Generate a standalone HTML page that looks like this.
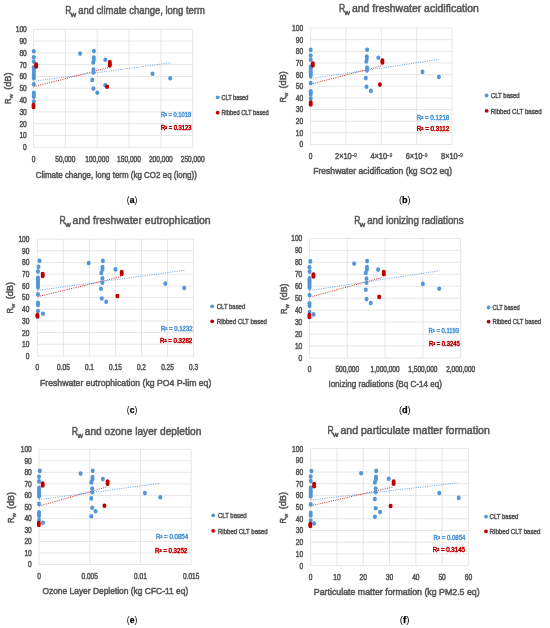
<!DOCTYPE html>
<html><head><meta charset="utf-8"><title>Rw charts</title>
<style>
html,body{margin:0;padding:0;background:#fff;}
body{width:550px;height:628px;overflow:hidden;}
svg{display:block;filter:blur(0.35px);}
text{font-family:"Liberation Sans",sans-serif;}
</style></head><body>
<svg width="550" height="628" viewBox="0 0 550 628">
<rect width="550" height="628" fill="#fff"/>
<line x1="33.50" y1="147.30" x2="192.70" y2="147.30" stroke="#dedede" stroke-width="0.75"/>
<line x1="33.50" y1="135.50" x2="192.70" y2="135.50" stroke="#dedede" stroke-width="0.75"/>
<line x1="33.50" y1="123.70" x2="192.70" y2="123.70" stroke="#dedede" stroke-width="0.75"/>
<line x1="33.50" y1="111.90" x2="192.70" y2="111.90" stroke="#dedede" stroke-width="0.75"/>
<line x1="33.50" y1="100.10" x2="192.70" y2="100.10" stroke="#dedede" stroke-width="0.75"/>
<line x1="33.50" y1="88.30" x2="192.70" y2="88.30" stroke="#dedede" stroke-width="0.75"/>
<line x1="33.50" y1="76.50" x2="192.70" y2="76.50" stroke="#dedede" stroke-width="0.75"/>
<line x1="33.50" y1="64.70" x2="192.70" y2="64.70" stroke="#dedede" stroke-width="0.75"/>
<line x1="33.50" y1="52.90" x2="192.70" y2="52.90" stroke="#dedede" stroke-width="0.75"/>
<line x1="33.50" y1="41.10" x2="192.70" y2="41.10" stroke="#dedede" stroke-width="0.75"/>
<line x1="33.50" y1="29.30" x2="192.70" y2="29.30" stroke="#dedede" stroke-width="0.75"/>
<line x1="33.50" y1="29.30" x2="33.50" y2="147.30" stroke="#dedede" stroke-width="0.75"/>
<line x1="65.34" y1="29.30" x2="65.34" y2="147.30" stroke="#dedede" stroke-width="0.75"/>
<line x1="97.18" y1="29.30" x2="97.18" y2="147.30" stroke="#dedede" stroke-width="0.75"/>
<line x1="129.02" y1="29.30" x2="129.02" y2="147.30" stroke="#dedede" stroke-width="0.75"/>
<line x1="160.86" y1="29.30" x2="160.86" y2="147.30" stroke="#dedede" stroke-width="0.75"/>
<line x1="192.70" y1="29.30" x2="192.70" y2="147.30" stroke="#dedede" stroke-width="0.75"/>
<text x="26.80" y="150.24" font-size="8.2" fill="#595959" text-anchor="end" font-weight="normal" font-family="Liberation Sans" stroke="#595959" stroke-width="0.55" textLength="3.7" lengthAdjust="spacingAndGlyphs">0</text>
<text x="26.80" y="138.44" font-size="8.2" fill="#595959" text-anchor="end" font-weight="normal" font-family="Liberation Sans" stroke="#595959" stroke-width="0.55" textLength="7.4" lengthAdjust="spacingAndGlyphs">10</text>
<text x="26.80" y="126.64" font-size="8.2" fill="#595959" text-anchor="end" font-weight="normal" font-family="Liberation Sans" stroke="#595959" stroke-width="0.55" textLength="7.4" lengthAdjust="spacingAndGlyphs">20</text>
<text x="26.80" y="114.84" font-size="8.2" fill="#595959" text-anchor="end" font-weight="normal" font-family="Liberation Sans" stroke="#595959" stroke-width="0.55" textLength="7.4" lengthAdjust="spacingAndGlyphs">30</text>
<text x="26.80" y="103.04" font-size="8.2" fill="#595959" text-anchor="end" font-weight="normal" font-family="Liberation Sans" stroke="#595959" stroke-width="0.55" textLength="7.4" lengthAdjust="spacingAndGlyphs">40</text>
<text x="26.80" y="91.24" font-size="8.2" fill="#595959" text-anchor="end" font-weight="normal" font-family="Liberation Sans" stroke="#595959" stroke-width="0.55" textLength="7.4" lengthAdjust="spacingAndGlyphs">50</text>
<text x="26.80" y="79.44" font-size="8.2" fill="#595959" text-anchor="end" font-weight="normal" font-family="Liberation Sans" stroke="#595959" stroke-width="0.55" textLength="7.4" lengthAdjust="spacingAndGlyphs">60</text>
<text x="26.80" y="67.64" font-size="8.2" fill="#595959" text-anchor="end" font-weight="normal" font-family="Liberation Sans" stroke="#595959" stroke-width="0.55" textLength="7.4" lengthAdjust="spacingAndGlyphs">70</text>
<text x="26.80" y="55.84" font-size="8.2" fill="#595959" text-anchor="end" font-weight="normal" font-family="Liberation Sans" stroke="#595959" stroke-width="0.55" textLength="7.4" lengthAdjust="spacingAndGlyphs">80</text>
<text x="26.80" y="44.04" font-size="8.2" fill="#595959" text-anchor="end" font-weight="normal" font-family="Liberation Sans" stroke="#595959" stroke-width="0.55" textLength="7.4" lengthAdjust="spacingAndGlyphs">90</text>
<text x="26.80" y="32.24" font-size="8.2" fill="#595959" text-anchor="end" font-weight="normal" font-family="Liberation Sans" stroke="#595959" stroke-width="0.55" textLength="11.1" lengthAdjust="spacingAndGlyphs">100</text>
<text x="33.50" y="161.94" font-size="8.2" fill="#595959" text-anchor="middle" font-weight="normal" font-family="Liberation Sans" stroke="#595959" stroke-width="0.55" textLength="3.7" lengthAdjust="spacingAndGlyphs">0</text>
<text x="65.34" y="161.94" font-size="8.2" fill="#595959" text-anchor="middle" font-weight="normal" font-family="Liberation Sans" stroke="#595959" stroke-width="0.55" textLength="20.1" lengthAdjust="spacingAndGlyphs">50,000</text>
<text x="97.18" y="161.94" font-size="8.2" fill="#595959" text-anchor="middle" font-weight="normal" font-family="Liberation Sans" stroke="#595959" stroke-width="0.55" textLength="23.8" lengthAdjust="spacingAndGlyphs">100,000</text>
<text x="129.02" y="161.94" font-size="8.2" fill="#595959" text-anchor="middle" font-weight="normal" font-family="Liberation Sans" stroke="#595959" stroke-width="0.55" textLength="23.8" lengthAdjust="spacingAndGlyphs">150,000</text>
<text x="160.86" y="161.94" font-size="8.2" fill="#595959" text-anchor="middle" font-weight="normal" font-family="Liberation Sans" stroke="#595959" stroke-width="0.55" textLength="23.8" lengthAdjust="spacingAndGlyphs">200,000</text>
<text x="192.70" y="161.94" font-size="8.2" fill="#595959" text-anchor="middle" font-weight="normal" font-family="Liberation Sans" stroke="#595959" stroke-width="0.55" textLength="23.8" lengthAdjust="spacingAndGlyphs">250,000</text>
<text x="35.70" y="177.59" font-size="9.2" fill="#595959" text-anchor="start" font-weight="normal" font-family="Liberation Sans" stroke="#595959" stroke-width="0.55" textLength="161.1" lengthAdjust="spacingAndGlyphs">Climate change, long term (kg CO2 eq (long))</text>
<text x="65.20" y="13.60" font-size="10.8" fill="#595959" font-weight="normal" font-family="Liberation Sans" stroke="#595959" stroke-width="0.55" textLength="6.2" lengthAdjust="spacingAndGlyphs">R</text>
<text x="70.80" y="16.50" font-size="7.0" fill="#595959" font-weight="normal" font-family="Liberation Sans" stroke="#595959" stroke-width="0.55" textLength="5.4" lengthAdjust="spacingAndGlyphs">w</text>
<text x="78.20" y="13.60" font-size="10.8" fill="#595959" text-anchor="start" font-weight="normal" font-family="Liberation Sans" stroke="#595959" stroke-width="0.55" textLength="126.7" lengthAdjust="spacingAndGlyphs">and climate change, long term</text>
<g transform="translate(10.50,104.00) rotate(-90)"><text x="0" y="0" font-size="8.6" fill="#595959" font-weight="normal" font-family="Liberation Sans" stroke="#595959" stroke-width="0.55" textLength="5.6" lengthAdjust="spacingAndGlyphs">R</text><text x="5.8" y="2.0" font-size="5.0" fill="#595959" font-weight="normal" font-family="Liberation Sans" stroke="#595959" stroke-width="0.35" textLength="4.0" lengthAdjust="spacingAndGlyphs">w</text><text x="14.18" y="0" font-size="8.8" fill="#595959" font-weight="normal" font-family="Liberation Sans" stroke="#595959" stroke-width="0.55" textLength="17.3" lengthAdjust="spacingAndGlyphs">(dB)</text></g>
<line x1="33.50" y1="81.30" x2="171.00" y2="62.70" stroke="#5296d8" stroke-width="0.85" stroke-dasharray="1 1.3"/>
<line x1="33.50" y1="86.80" x2="109.00" y2="67.50" stroke="#c00000" stroke-width="0.85" stroke-dasharray="1 1.3"/>
<ellipse cx="33.80" cy="67.20" rx="2.0" ry="2.3" fill="#5296d8"/>
<ellipse cx="33.80" cy="69.05" rx="2.0" ry="2.3" fill="#5296d8"/>
<ellipse cx="33.80" cy="70.90" rx="2.0" ry="2.3" fill="#5296d8"/>
<ellipse cx="33.80" cy="72.75" rx="2.0" ry="2.3" fill="#5296d8"/>
<ellipse cx="33.80" cy="74.60" rx="2.0" ry="2.3" fill="#5296d8"/>
<ellipse cx="33.80" cy="76.45" rx="2.0" ry="2.3" fill="#5296d8"/>
<ellipse cx="33.80" cy="78.30" rx="2.0" ry="2.3" fill="#5296d8"/>
<ellipse cx="33.80" cy="92.90" rx="2.0" ry="2.3" fill="#5296d8"/>
<ellipse cx="33.80" cy="94.85" rx="2.0" ry="2.3" fill="#5296d8"/>
<ellipse cx="33.80" cy="96.80" rx="2.0" ry="2.3" fill="#5296d8"/>
<ellipse cx="33.80" cy="51.30" rx="2.0" ry="2.3" fill="#5296d8"/>
<ellipse cx="33.80" cy="57.30" rx="2.0" ry="2.3" fill="#5296d8"/>
<ellipse cx="33.80" cy="61.60" rx="2.0" ry="2.3" fill="#5296d8"/>
<ellipse cx="33.80" cy="84.20" rx="2.0" ry="2.3" fill="#5296d8"/>
<ellipse cx="33.80" cy="101.50" rx="2.0" ry="2.3" fill="#5296d8"/>
<ellipse cx="80.10" cy="53.60" rx="2.0" ry="2.3" fill="#5296d8"/>
<ellipse cx="93.90" cy="51.00" rx="2.0" ry="2.3" fill="#5296d8"/>
<ellipse cx="93.80" cy="57.50" rx="2.0" ry="2.3" fill="#5296d8"/>
<ellipse cx="93.80" cy="60.00" rx="2.0" ry="2.3" fill="#5296d8"/>
<ellipse cx="93.20" cy="62.50" rx="2.0" ry="2.3" fill="#5296d8"/>
<ellipse cx="93.50" cy="69.50" rx="2.0" ry="2.3" fill="#5296d8"/>
<ellipse cx="93.50" cy="72.50" rx="2.0" ry="2.3" fill="#5296d8"/>
<ellipse cx="92.20" cy="79.90" rx="2.0" ry="2.3" fill="#5296d8"/>
<ellipse cx="93.40" cy="88.60" rx="2.0" ry="2.3" fill="#5296d8"/>
<ellipse cx="97.30" cy="92.80" rx="2.0" ry="2.3" fill="#5296d8"/>
<ellipse cx="105.30" cy="59.70" rx="2.0" ry="2.3" fill="#5296d8"/>
<ellipse cx="105.30" cy="85.20" rx="2.0" ry="2.3" fill="#5296d8"/>
<ellipse cx="152.50" cy="73.70" rx="2.0" ry="2.3" fill="#5296d8"/>
<ellipse cx="170.20" cy="78.20" rx="2.0" ry="2.3" fill="#5296d8"/>
<ellipse cx="36.20" cy="64.50" rx="2.0" ry="2.3" fill="#c00000"/>
<ellipse cx="36.20" cy="66.50" rx="2.0" ry="2.3" fill="#c00000"/>
<ellipse cx="33.50" cy="105.00" rx="2.0" ry="2.3" fill="#c00000"/>
<ellipse cx="33.50" cy="107.00" rx="2.0" ry="2.3" fill="#c00000"/>
<ellipse cx="109.80" cy="62.00" rx="2.0" ry="2.3" fill="#c00000"/>
<ellipse cx="109.80" cy="64.00" rx="2.0" ry="2.3" fill="#c00000"/>
<ellipse cx="109.80" cy="65.50" rx="2.0" ry="2.3" fill="#c00000"/>
<ellipse cx="107.10" cy="86.80" rx="2.0" ry="2.3" fill="#c00000"/>
<text x="160.90" y="117.31" font-size="7" fill="#5296d8" text-anchor="start" font-weight="normal" font-family="Liberation Sans" stroke="#5296d8" stroke-width="0.55" textLength="30.2" lengthAdjust="spacingAndGlyphs">R² = 0.1018</text>
<text x="160.90" y="129.71" font-size="7" fill="#c00000" text-anchor="start" font-weight="normal" font-family="Liberation Sans" stroke="#c00000" stroke-width="0.55" textLength="30.5" lengthAdjust="spacingAndGlyphs">R² = 0.3123</text>
<circle cx="217.70" cy="97.30" r="1.9" fill="#5296d8"/>
<circle cx="217.70" cy="112.70" r="1.9" fill="#c00000"/>
<text x="221.50" y="100.02" font-size="7.6" fill="#595959" text-anchor="start" font-weight="normal" font-family="Liberation Sans" stroke="#595959" stroke-width="0.55" textLength="26.8" lengthAdjust="spacingAndGlyphs">CLT based</text>
<text x="221.50" y="115.42" font-size="7.6" fill="#595959" text-anchor="start" font-weight="normal" font-family="Liberation Sans" stroke="#595959" stroke-width="0.55" textLength="47.1" lengthAdjust="spacingAndGlyphs">Ribbed CLT based</text>
<text x="126.80" y="203.00" font-size="9" fill="#000" font-family="Liberation Serif" textLength="10.5" lengthAdjust="spacingAndGlyphs">(<tspan font-weight="bold" stroke="#000" stroke-width="0.25">a</tspan>)</text>
<line x1="310.60" y1="144.50" x2="452.00" y2="144.50" stroke="#dedede" stroke-width="0.75"/>
<line x1="310.60" y1="132.85" x2="452.00" y2="132.85" stroke="#dedede" stroke-width="0.75"/>
<line x1="310.60" y1="121.20" x2="452.00" y2="121.20" stroke="#dedede" stroke-width="0.75"/>
<line x1="310.60" y1="109.55" x2="452.00" y2="109.55" stroke="#dedede" stroke-width="0.75"/>
<line x1="310.60" y1="97.90" x2="452.00" y2="97.90" stroke="#dedede" stroke-width="0.75"/>
<line x1="310.60" y1="86.25" x2="452.00" y2="86.25" stroke="#dedede" stroke-width="0.75"/>
<line x1="310.60" y1="74.60" x2="452.00" y2="74.60" stroke="#dedede" stroke-width="0.75"/>
<line x1="310.60" y1="62.95" x2="452.00" y2="62.95" stroke="#dedede" stroke-width="0.75"/>
<line x1="310.60" y1="51.30" x2="452.00" y2="51.30" stroke="#dedede" stroke-width="0.75"/>
<line x1="310.60" y1="39.65" x2="452.00" y2="39.65" stroke="#dedede" stroke-width="0.75"/>
<line x1="310.60" y1="28.00" x2="452.00" y2="28.00" stroke="#dedede" stroke-width="0.75"/>
<line x1="310.60" y1="28.00" x2="310.60" y2="144.50" stroke="#dedede" stroke-width="0.75"/>
<line x1="345.95" y1="28.00" x2="345.95" y2="144.50" stroke="#dedede" stroke-width="0.75"/>
<line x1="381.30" y1="28.00" x2="381.30" y2="144.50" stroke="#dedede" stroke-width="0.75"/>
<line x1="416.65" y1="28.00" x2="416.65" y2="144.50" stroke="#dedede" stroke-width="0.75"/>
<line x1="452.00" y1="28.00" x2="452.00" y2="144.50" stroke="#dedede" stroke-width="0.75"/>
<text x="303.10" y="147.44" font-size="8.2" fill="#595959" text-anchor="end" font-weight="normal" font-family="Liberation Sans" stroke="#595959" stroke-width="0.55" textLength="3.7" lengthAdjust="spacingAndGlyphs">0</text>
<text x="303.10" y="135.79" font-size="8.2" fill="#595959" text-anchor="end" font-weight="normal" font-family="Liberation Sans" stroke="#595959" stroke-width="0.55" textLength="7.4" lengthAdjust="spacingAndGlyphs">10</text>
<text x="303.10" y="124.14" font-size="8.2" fill="#595959" text-anchor="end" font-weight="normal" font-family="Liberation Sans" stroke="#595959" stroke-width="0.55" textLength="7.4" lengthAdjust="spacingAndGlyphs">20</text>
<text x="303.10" y="112.49" font-size="8.2" fill="#595959" text-anchor="end" font-weight="normal" font-family="Liberation Sans" stroke="#595959" stroke-width="0.55" textLength="7.4" lengthAdjust="spacingAndGlyphs">30</text>
<text x="303.10" y="100.84" font-size="8.2" fill="#595959" text-anchor="end" font-weight="normal" font-family="Liberation Sans" stroke="#595959" stroke-width="0.55" textLength="7.4" lengthAdjust="spacingAndGlyphs">40</text>
<text x="303.10" y="89.19" font-size="8.2" fill="#595959" text-anchor="end" font-weight="normal" font-family="Liberation Sans" stroke="#595959" stroke-width="0.55" textLength="7.4" lengthAdjust="spacingAndGlyphs">50</text>
<text x="303.10" y="77.54" font-size="8.2" fill="#595959" text-anchor="end" font-weight="normal" font-family="Liberation Sans" stroke="#595959" stroke-width="0.55" textLength="7.4" lengthAdjust="spacingAndGlyphs">60</text>
<text x="303.10" y="65.89" font-size="8.2" fill="#595959" text-anchor="end" font-weight="normal" font-family="Liberation Sans" stroke="#595959" stroke-width="0.55" textLength="7.4" lengthAdjust="spacingAndGlyphs">70</text>
<text x="303.10" y="54.24" font-size="8.2" fill="#595959" text-anchor="end" font-weight="normal" font-family="Liberation Sans" stroke="#595959" stroke-width="0.55" textLength="7.4" lengthAdjust="spacingAndGlyphs">80</text>
<text x="303.10" y="42.59" font-size="8.2" fill="#595959" text-anchor="end" font-weight="normal" font-family="Liberation Sans" stroke="#595959" stroke-width="0.55" textLength="7.4" lengthAdjust="spacingAndGlyphs">90</text>
<text x="303.10" y="30.94" font-size="8.2" fill="#595959" text-anchor="end" font-weight="normal" font-family="Liberation Sans" stroke="#595959" stroke-width="0.55" textLength="11.1" lengthAdjust="spacingAndGlyphs">100</text>
<text x="310.60" y="159.34" font-size="8.2" fill="#595959" text-anchor="middle" font-weight="normal" font-family="Liberation Sans" stroke="#595959" stroke-width="0.55" textLength="3.7" lengthAdjust="spacingAndGlyphs">0</text>
<text x="345.95" y="159.34" font-size="8.2" fill="#595959" stroke="#595959" stroke-width="0.55" text-anchor="middle" font-family="Liberation Sans" textLength="21.8" lengthAdjust="spacingAndGlyphs">2×10<tspan font-size="5.08" dy="-2.4" stroke-width="0.3">−9</tspan></text>
<text x="381.30" y="159.34" font-size="8.2" fill="#595959" stroke="#595959" stroke-width="0.55" text-anchor="middle" font-family="Liberation Sans" textLength="21.8" lengthAdjust="spacingAndGlyphs">4×10<tspan font-size="5.08" dy="-2.4" stroke-width="0.3">−9</tspan></text>
<text x="416.65" y="159.34" font-size="8.2" fill="#595959" stroke="#595959" stroke-width="0.55" text-anchor="middle" font-family="Liberation Sans" textLength="21.8" lengthAdjust="spacingAndGlyphs">6×10<tspan font-size="5.08" dy="-2.4" stroke-width="0.3">−9</tspan></text>
<text x="452.00" y="159.34" font-size="8.2" fill="#595959" stroke="#595959" stroke-width="0.55" text-anchor="middle" font-family="Liberation Sans" textLength="21.8" lengthAdjust="spacingAndGlyphs">8×10<tspan font-size="5.08" dy="-2.4" stroke-width="0.3">−9</tspan></text>
<text x="313.20" y="173.89" font-size="9.2" fill="#595959" text-anchor="start" font-weight="normal" font-family="Liberation Sans" stroke="#595959" stroke-width="0.55" textLength="138.8" lengthAdjust="spacingAndGlyphs">Freshwater acidification (kg SO2 eq)</text>
<text x="338.90" y="12.20" font-size="10.8" fill="#595959" font-weight="normal" font-family="Liberation Sans" stroke="#595959" stroke-width="0.55" textLength="6.2" lengthAdjust="spacingAndGlyphs">R</text>
<text x="344.50" y="15.10" font-size="7.0" fill="#595959" font-weight="normal" font-family="Liberation Sans" stroke="#595959" stroke-width="0.55" textLength="5.4" lengthAdjust="spacingAndGlyphs">w</text>
<text x="351.90" y="12.20" font-size="10.8" fill="#595959" text-anchor="start" font-weight="normal" font-family="Liberation Sans" stroke="#595959" stroke-width="0.55" textLength="127.0" lengthAdjust="spacingAndGlyphs">and freshwater acidification</text>
<g transform="translate(285.50,102.60) rotate(-90)"><text x="0" y="0" font-size="8.6" fill="#595959" font-weight="normal" font-family="Liberation Sans" stroke="#595959" stroke-width="0.55" textLength="5.6" lengthAdjust="spacingAndGlyphs">R</text><text x="5.8" y="2.0" font-size="5.0" fill="#595959" font-weight="normal" font-family="Liberation Sans" stroke="#595959" stroke-width="0.35" textLength="4.0" lengthAdjust="spacingAndGlyphs">w</text><text x="14.18" y="0" font-size="8.8" fill="#595959" font-weight="normal" font-family="Liberation Sans" stroke="#595959" stroke-width="0.55" textLength="17.3" lengthAdjust="spacingAndGlyphs">(dB)</text></g>
<line x1="310.80" y1="78.60" x2="438.90" y2="59.40" stroke="#5296d8" stroke-width="0.85" stroke-dasharray="1 1.3"/>
<line x1="310.80" y1="84.10" x2="380.70" y2="66.10" stroke="#c00000" stroke-width="0.85" stroke-dasharray="1 1.3"/>
<ellipse cx="310.70" cy="66.60" rx="2.0" ry="2.3" fill="#5296d8"/>
<ellipse cx="310.70" cy="68.50" rx="2.0" ry="2.3" fill="#5296d8"/>
<ellipse cx="310.70" cy="70.40" rx="2.0" ry="2.3" fill="#5296d8"/>
<ellipse cx="310.70" cy="72.30" rx="2.0" ry="2.3" fill="#5296d8"/>
<ellipse cx="310.70" cy="74.20" rx="2.0" ry="2.3" fill="#5296d8"/>
<ellipse cx="310.70" cy="76.10" rx="2.0" ry="2.3" fill="#5296d8"/>
<ellipse cx="310.70" cy="91.20" rx="2.0" ry="2.3" fill="#5296d8"/>
<ellipse cx="310.70" cy="92.80" rx="2.0" ry="2.3" fill="#5296d8"/>
<ellipse cx="310.70" cy="94.40" rx="2.0" ry="2.3" fill="#5296d8"/>
<ellipse cx="310.70" cy="49.90" rx="2.0" ry="2.3" fill="#5296d8"/>
<ellipse cx="310.70" cy="55.60" rx="2.0" ry="2.3" fill="#5296d8"/>
<ellipse cx="310.70" cy="59.70" rx="2.0" ry="2.3" fill="#5296d8"/>
<ellipse cx="310.70" cy="83.10" rx="2.0" ry="2.3" fill="#5296d8"/>
<ellipse cx="310.70" cy="98.50" rx="2.0" ry="2.3" fill="#5296d8"/>
<ellipse cx="367.10" cy="49.70" rx="2.0" ry="2.3" fill="#5296d8"/>
<ellipse cx="366.80" cy="56.50" rx="2.0" ry="2.3" fill="#5296d8"/>
<ellipse cx="366.80" cy="59.00" rx="2.0" ry="2.3" fill="#5296d8"/>
<ellipse cx="366.30" cy="61.50" rx="2.0" ry="2.3" fill="#5296d8"/>
<ellipse cx="367.00" cy="67.50" rx="2.0" ry="2.3" fill="#5296d8"/>
<ellipse cx="367.00" cy="70.50" rx="2.0" ry="2.3" fill="#5296d8"/>
<ellipse cx="365.80" cy="78.10" rx="2.0" ry="2.3" fill="#5296d8"/>
<ellipse cx="366.50" cy="86.80" rx="2.0" ry="2.3" fill="#5296d8"/>
<ellipse cx="370.90" cy="90.90" rx="2.0" ry="2.3" fill="#5296d8"/>
<ellipse cx="378.30" cy="57.70" rx="2.0" ry="2.3" fill="#5296d8"/>
<ellipse cx="422.50" cy="71.90" rx="2.0" ry="2.3" fill="#5296d8"/>
<ellipse cx="438.90" cy="76.90" rx="2.0" ry="2.3" fill="#5296d8"/>
<ellipse cx="312.80" cy="63.50" rx="2.0" ry="2.3" fill="#c00000"/>
<ellipse cx="312.80" cy="65.50" rx="2.0" ry="2.3" fill="#c00000"/>
<ellipse cx="310.70" cy="102.50" rx="2.0" ry="2.3" fill="#c00000"/>
<ellipse cx="310.70" cy="104.50" rx="2.0" ry="2.3" fill="#c00000"/>
<ellipse cx="382.40" cy="60.50" rx="2.0" ry="2.3" fill="#c00000"/>
<ellipse cx="382.40" cy="62.50" rx="2.0" ry="2.3" fill="#c00000"/>
<ellipse cx="379.90" cy="84.60" rx="2.0" ry="2.3" fill="#c00000"/>
<text x="416.80" y="119.61" font-size="7" fill="#5296d8" text-anchor="start" font-weight="normal" font-family="Liberation Sans" stroke="#5296d8" stroke-width="0.55" textLength="32.5" lengthAdjust="spacingAndGlyphs">R² = 0.1218</text>
<text x="416.80" y="131.31" font-size="7" fill="#c00000" text-anchor="start" font-weight="normal" font-family="Liberation Sans" stroke="#c00000" stroke-width="0.55" textLength="32.5" lengthAdjust="spacingAndGlyphs">R² = 0.3112</text>
<circle cx="486.60" cy="95.50" r="1.9" fill="#5296d8"/>
<circle cx="486.60" cy="110.80" r="1.9" fill="#c00000"/>
<text x="490.80" y="98.22" font-size="7.6" fill="#595959" text-anchor="start" font-weight="normal" font-family="Liberation Sans" stroke="#595959" stroke-width="0.55" textLength="28.9" lengthAdjust="spacingAndGlyphs">CLT based</text>
<text x="490.80" y="113.52" font-size="7.6" fill="#595959" text-anchor="start" font-weight="normal" font-family="Liberation Sans" stroke="#595959" stroke-width="0.55" textLength="50.9" lengthAdjust="spacingAndGlyphs">Ribbed CLT based</text>
<text x="398.90" y="203.20" font-size="9" fill="#000" font-family="Liberation Serif" textLength="11.6" lengthAdjust="spacingAndGlyphs">(<tspan font-weight="bold" stroke="#000" stroke-width="0.25">b</tspan>)</text>
<line x1="37.40" y1="356.00" x2="193.50" y2="356.00" stroke="#dedede" stroke-width="0.75"/>
<line x1="37.40" y1="344.31" x2="193.50" y2="344.31" stroke="#dedede" stroke-width="0.75"/>
<line x1="37.40" y1="332.62" x2="193.50" y2="332.62" stroke="#dedede" stroke-width="0.75"/>
<line x1="37.40" y1="320.93" x2="193.50" y2="320.93" stroke="#dedede" stroke-width="0.75"/>
<line x1="37.40" y1="309.24" x2="193.50" y2="309.24" stroke="#dedede" stroke-width="0.75"/>
<line x1="37.40" y1="297.55" x2="193.50" y2="297.55" stroke="#dedede" stroke-width="0.75"/>
<line x1="37.40" y1="285.86" x2="193.50" y2="285.86" stroke="#dedede" stroke-width="0.75"/>
<line x1="37.40" y1="274.17" x2="193.50" y2="274.17" stroke="#dedede" stroke-width="0.75"/>
<line x1="37.40" y1="262.48" x2="193.50" y2="262.48" stroke="#dedede" stroke-width="0.75"/>
<line x1="37.40" y1="250.79" x2="193.50" y2="250.79" stroke="#dedede" stroke-width="0.75"/>
<line x1="37.40" y1="239.10" x2="193.50" y2="239.10" stroke="#dedede" stroke-width="0.75"/>
<line x1="37.40" y1="239.10" x2="37.40" y2="356.00" stroke="#dedede" stroke-width="0.75"/>
<line x1="63.42" y1="239.10" x2="63.42" y2="356.00" stroke="#dedede" stroke-width="0.75"/>
<line x1="89.43" y1="239.10" x2="89.43" y2="356.00" stroke="#dedede" stroke-width="0.75"/>
<line x1="115.45" y1="239.10" x2="115.45" y2="356.00" stroke="#dedede" stroke-width="0.75"/>
<line x1="141.47" y1="239.10" x2="141.47" y2="356.00" stroke="#dedede" stroke-width="0.75"/>
<line x1="167.48" y1="239.10" x2="167.48" y2="356.00" stroke="#dedede" stroke-width="0.75"/>
<line x1="193.50" y1="239.10" x2="193.50" y2="356.00" stroke="#dedede" stroke-width="0.75"/>
<text x="29.50" y="358.94" font-size="8.2" fill="#595959" text-anchor="end" font-weight="normal" font-family="Liberation Sans" stroke="#595959" stroke-width="0.55" textLength="3.7" lengthAdjust="spacingAndGlyphs">0</text>
<text x="29.50" y="347.25" font-size="8.2" fill="#595959" text-anchor="end" font-weight="normal" font-family="Liberation Sans" stroke="#595959" stroke-width="0.55" textLength="7.4" lengthAdjust="spacingAndGlyphs">10</text>
<text x="29.50" y="335.56" font-size="8.2" fill="#595959" text-anchor="end" font-weight="normal" font-family="Liberation Sans" stroke="#595959" stroke-width="0.55" textLength="7.4" lengthAdjust="spacingAndGlyphs">20</text>
<text x="29.50" y="323.87" font-size="8.2" fill="#595959" text-anchor="end" font-weight="normal" font-family="Liberation Sans" stroke="#595959" stroke-width="0.55" textLength="7.4" lengthAdjust="spacingAndGlyphs">30</text>
<text x="29.50" y="312.18" font-size="8.2" fill="#595959" text-anchor="end" font-weight="normal" font-family="Liberation Sans" stroke="#595959" stroke-width="0.55" textLength="7.4" lengthAdjust="spacingAndGlyphs">40</text>
<text x="29.50" y="300.49" font-size="8.2" fill="#595959" text-anchor="end" font-weight="normal" font-family="Liberation Sans" stroke="#595959" stroke-width="0.55" textLength="7.4" lengthAdjust="spacingAndGlyphs">50</text>
<text x="29.50" y="288.80" font-size="8.2" fill="#595959" text-anchor="end" font-weight="normal" font-family="Liberation Sans" stroke="#595959" stroke-width="0.55" textLength="7.4" lengthAdjust="spacingAndGlyphs">60</text>
<text x="29.50" y="277.11" font-size="8.2" fill="#595959" text-anchor="end" font-weight="normal" font-family="Liberation Sans" stroke="#595959" stroke-width="0.55" textLength="7.4" lengthAdjust="spacingAndGlyphs">70</text>
<text x="29.50" y="265.42" font-size="8.2" fill="#595959" text-anchor="end" font-weight="normal" font-family="Liberation Sans" stroke="#595959" stroke-width="0.55" textLength="7.4" lengthAdjust="spacingAndGlyphs">80</text>
<text x="29.50" y="253.73" font-size="8.2" fill="#595959" text-anchor="end" font-weight="normal" font-family="Liberation Sans" stroke="#595959" stroke-width="0.55" textLength="7.4" lengthAdjust="spacingAndGlyphs">90</text>
<text x="29.50" y="242.04" font-size="8.2" fill="#595959" text-anchor="end" font-weight="normal" font-family="Liberation Sans" stroke="#595959" stroke-width="0.55" textLength="11.1" lengthAdjust="spacingAndGlyphs">100</text>
<text x="37.40" y="370.14" font-size="8.2" fill="#595959" text-anchor="middle" font-weight="normal" font-family="Liberation Sans" stroke="#595959" stroke-width="0.55" textLength="3.7" lengthAdjust="spacingAndGlyphs">0</text>
<text x="63.42" y="370.14" font-size="8.2" fill="#595959" text-anchor="middle" font-weight="normal" font-family="Liberation Sans" stroke="#595959" stroke-width="0.55" textLength="12.7" lengthAdjust="spacingAndGlyphs">0.05</text>
<text x="89.43" y="370.14" font-size="8.2" fill="#595959" text-anchor="middle" font-weight="normal" font-family="Liberation Sans" stroke="#595959" stroke-width="0.55" textLength="9.0" lengthAdjust="spacingAndGlyphs">0.1</text>
<text x="115.45" y="370.14" font-size="8.2" fill="#595959" text-anchor="middle" font-weight="normal" font-family="Liberation Sans" stroke="#595959" stroke-width="0.55" textLength="12.7" lengthAdjust="spacingAndGlyphs">0.15</text>
<text x="141.47" y="370.14" font-size="8.2" fill="#595959" text-anchor="middle" font-weight="normal" font-family="Liberation Sans" stroke="#595959" stroke-width="0.55" textLength="9.0" lengthAdjust="spacingAndGlyphs">0.2</text>
<text x="167.48" y="370.14" font-size="8.2" fill="#595959" text-anchor="middle" font-weight="normal" font-family="Liberation Sans" stroke="#595959" stroke-width="0.55" textLength="12.7" lengthAdjust="spacingAndGlyphs">0.25</text>
<text x="193.50" y="370.14" font-size="8.2" fill="#595959" text-anchor="middle" font-weight="normal" font-family="Liberation Sans" stroke="#595959" stroke-width="0.55" textLength="9.0" lengthAdjust="spacingAndGlyphs">0.3</text>
<text x="40.00" y="385.59" font-size="9.2" fill="#595959" text-anchor="start" font-weight="normal" font-family="Liberation Sans" stroke="#595959" stroke-width="0.55" textLength="171.3" lengthAdjust="spacingAndGlyphs">Freshwater eutrophication (kg PO4 P-lim eq)</text>
<text x="59.60" y="223.60" font-size="10.8" fill="#595959" font-weight="normal" font-family="Liberation Sans" stroke="#595959" stroke-width="0.55" textLength="6.2" lengthAdjust="spacingAndGlyphs">R</text>
<text x="65.20" y="226.50" font-size="7.0" fill="#595959" font-weight="normal" font-family="Liberation Sans" stroke="#595959" stroke-width="0.55" textLength="5.4" lengthAdjust="spacingAndGlyphs">w</text>
<text x="72.60" y="223.60" font-size="10.8" fill="#595959" text-anchor="start" font-weight="normal" font-family="Liberation Sans" stroke="#595959" stroke-width="0.55" textLength="138.1" lengthAdjust="spacingAndGlyphs">and freshwater eutrophication</text>
<g transform="translate(12.90,313.50) rotate(-90)"><text x="0" y="0" font-size="8.6" fill="#595959" font-weight="normal" font-family="Liberation Sans" stroke="#595959" stroke-width="0.55" textLength="5.6" lengthAdjust="spacingAndGlyphs">R</text><text x="5.8" y="2.0" font-size="5.0" fill="#595959" font-weight="normal" font-family="Liberation Sans" stroke="#595959" stroke-width="0.35" textLength="4.0" lengthAdjust="spacingAndGlyphs">w</text><text x="14.18" y="0" font-size="8.8" fill="#595959" font-weight="normal" font-family="Liberation Sans" stroke="#595959" stroke-width="0.55" textLength="17.3" lengthAdjust="spacingAndGlyphs">(dB)</text></g>
<line x1="37.50" y1="290.50" x2="184.50" y2="270.30" stroke="#5296d8" stroke-width="0.85" stroke-dasharray="1 1.3"/>
<line x1="37.50" y1="296.70" x2="120.90" y2="276.70" stroke="#c00000" stroke-width="0.85" stroke-dasharray="1 1.3"/>
<ellipse cx="38.00" cy="277.90" rx="2.0" ry="2.3" fill="#5296d8"/>
<ellipse cx="38.00" cy="279.80" rx="2.0" ry="2.3" fill="#5296d8"/>
<ellipse cx="38.00" cy="281.70" rx="2.0" ry="2.3" fill="#5296d8"/>
<ellipse cx="38.00" cy="283.60" rx="2.0" ry="2.3" fill="#5296d8"/>
<ellipse cx="38.00" cy="285.50" rx="2.0" ry="2.3" fill="#5296d8"/>
<ellipse cx="38.00" cy="287.40" rx="2.0" ry="2.3" fill="#5296d8"/>
<ellipse cx="38.00" cy="302.80" rx="2.0" ry="2.3" fill="#5296d8"/>
<ellipse cx="38.00" cy="305.00" rx="2.0" ry="2.3" fill="#5296d8"/>
<ellipse cx="39.50" cy="260.90" rx="2.0" ry="2.3" fill="#5296d8"/>
<ellipse cx="38.50" cy="266.80" rx="2.0" ry="2.3" fill="#5296d8"/>
<ellipse cx="38.00" cy="271.40" rx="2.0" ry="2.3" fill="#5296d8"/>
<ellipse cx="38.00" cy="294.40" rx="2.0" ry="2.3" fill="#5296d8"/>
<ellipse cx="38.00" cy="311.00" rx="2.0" ry="2.3" fill="#5296d8"/>
<ellipse cx="43.00" cy="313.70" rx="2.0" ry="2.3" fill="#5296d8"/>
<ellipse cx="88.70" cy="263.10" rx="2.0" ry="2.3" fill="#5296d8"/>
<ellipse cx="102.90" cy="260.90" rx="2.0" ry="2.3" fill="#5296d8"/>
<ellipse cx="102.50" cy="267.00" rx="2.0" ry="2.3" fill="#5296d8"/>
<ellipse cx="102.50" cy="269.50" rx="2.0" ry="2.3" fill="#5296d8"/>
<ellipse cx="101.30" cy="272.90" rx="2.0" ry="2.3" fill="#5296d8"/>
<ellipse cx="102.40" cy="278.40" rx="2.0" ry="2.3" fill="#5296d8"/>
<ellipse cx="102.40" cy="282.70" rx="2.0" ry="2.3" fill="#5296d8"/>
<ellipse cx="100.90" cy="288.70" rx="2.0" ry="2.3" fill="#5296d8"/>
<ellipse cx="101.80" cy="298.50" rx="2.0" ry="2.3" fill="#5296d8"/>
<ellipse cx="106.20" cy="301.80" rx="2.0" ry="2.3" fill="#5296d8"/>
<ellipse cx="115.50" cy="269.40" rx="2.0" ry="2.3" fill="#5296d8"/>
<ellipse cx="165.30" cy="283.60" rx="2.0" ry="2.3" fill="#5296d8"/>
<ellipse cx="184.20" cy="288.00" rx="2.0" ry="2.3" fill="#5296d8"/>
<ellipse cx="42.70" cy="274.00" rx="2.0" ry="2.3" fill="#c00000"/>
<ellipse cx="42.70" cy="276.00" rx="2.0" ry="2.3" fill="#c00000"/>
<ellipse cx="37.40" cy="315.00" rx="2.0" ry="2.3" fill="#c00000"/>
<ellipse cx="37.40" cy="316.50" rx="2.0" ry="2.3" fill="#c00000"/>
<ellipse cx="121.70" cy="272.00" rx="2.0" ry="2.3" fill="#c00000"/>
<ellipse cx="121.70" cy="274.00" rx="2.0" ry="2.3" fill="#c00000"/>
<ellipse cx="117.40" cy="296.10" rx="2.0" ry="2.3" fill="#c00000"/>
<text x="160.90" y="330.81" font-size="7" fill="#5296d8" text-anchor="start" font-weight="normal" font-family="Liberation Sans" stroke="#5296d8" stroke-width="0.55" textLength="31.8" lengthAdjust="spacingAndGlyphs">R² = 0.1232</text>
<text x="160.00" y="342.51" font-size="7" fill="#c00000" text-anchor="start" font-weight="normal" font-family="Liberation Sans" stroke="#c00000" stroke-width="0.55" textLength="32.3" lengthAdjust="spacingAndGlyphs">R² = 0.3282</text>
<circle cx="212.20" cy="306.30" r="1.9" fill="#5296d8"/>
<circle cx="212.20" cy="321.30" r="1.9" fill="#c00000"/>
<text x="216.80" y="309.02" font-size="7.6" fill="#595959" text-anchor="start" font-weight="normal" font-family="Liberation Sans" stroke="#595959" stroke-width="0.55" textLength="28.4" lengthAdjust="spacingAndGlyphs">CLT based</text>
<text x="216.80" y="324.02" font-size="7.6" fill="#595959" text-anchor="start" font-weight="normal" font-family="Liberation Sans" stroke="#595959" stroke-width="0.55" textLength="50.2" lengthAdjust="spacingAndGlyphs">Ribbed CLT based</text>
<text x="126.80" y="413.00" font-size="9" fill="#000" font-family="Liberation Serif" textLength="10.5" lengthAdjust="spacingAndGlyphs">(<tspan font-weight="bold" stroke="#000" stroke-width="0.25">c</tspan>)</text>
<line x1="309.50" y1="358.00" x2="460.70" y2="358.00" stroke="#dedede" stroke-width="0.75"/>
<line x1="309.50" y1="346.04" x2="460.70" y2="346.04" stroke="#dedede" stroke-width="0.75"/>
<line x1="309.50" y1="334.08" x2="460.70" y2="334.08" stroke="#dedede" stroke-width="0.75"/>
<line x1="309.50" y1="322.12" x2="460.70" y2="322.12" stroke="#dedede" stroke-width="0.75"/>
<line x1="309.50" y1="310.16" x2="460.70" y2="310.16" stroke="#dedede" stroke-width="0.75"/>
<line x1="309.50" y1="298.20" x2="460.70" y2="298.20" stroke="#dedede" stroke-width="0.75"/>
<line x1="309.50" y1="286.24" x2="460.70" y2="286.24" stroke="#dedede" stroke-width="0.75"/>
<line x1="309.50" y1="274.28" x2="460.70" y2="274.28" stroke="#dedede" stroke-width="0.75"/>
<line x1="309.50" y1="262.32" x2="460.70" y2="262.32" stroke="#dedede" stroke-width="0.75"/>
<line x1="309.50" y1="250.36" x2="460.70" y2="250.36" stroke="#dedede" stroke-width="0.75"/>
<line x1="309.50" y1="238.40" x2="460.70" y2="238.40" stroke="#dedede" stroke-width="0.75"/>
<line x1="309.50" y1="238.40" x2="309.50" y2="358.00" stroke="#dedede" stroke-width="0.75"/>
<line x1="347.30" y1="238.40" x2="347.30" y2="358.00" stroke="#dedede" stroke-width="0.75"/>
<line x1="385.10" y1="238.40" x2="385.10" y2="358.00" stroke="#dedede" stroke-width="0.75"/>
<line x1="422.90" y1="238.40" x2="422.90" y2="358.00" stroke="#dedede" stroke-width="0.75"/>
<line x1="460.70" y1="238.40" x2="460.70" y2="358.00" stroke="#dedede" stroke-width="0.75"/>
<text x="302.30" y="360.94" font-size="8.2" fill="#595959" text-anchor="end" font-weight="normal" font-family="Liberation Sans" stroke="#595959" stroke-width="0.55" textLength="3.7" lengthAdjust="spacingAndGlyphs">0</text>
<text x="302.30" y="348.98" font-size="8.2" fill="#595959" text-anchor="end" font-weight="normal" font-family="Liberation Sans" stroke="#595959" stroke-width="0.55" textLength="7.4" lengthAdjust="spacingAndGlyphs">10</text>
<text x="302.30" y="337.02" font-size="8.2" fill="#595959" text-anchor="end" font-weight="normal" font-family="Liberation Sans" stroke="#595959" stroke-width="0.55" textLength="7.4" lengthAdjust="spacingAndGlyphs">20</text>
<text x="302.30" y="325.06" font-size="8.2" fill="#595959" text-anchor="end" font-weight="normal" font-family="Liberation Sans" stroke="#595959" stroke-width="0.55" textLength="7.4" lengthAdjust="spacingAndGlyphs">30</text>
<text x="302.30" y="313.10" font-size="8.2" fill="#595959" text-anchor="end" font-weight="normal" font-family="Liberation Sans" stroke="#595959" stroke-width="0.55" textLength="7.4" lengthAdjust="spacingAndGlyphs">40</text>
<text x="302.30" y="301.14" font-size="8.2" fill="#595959" text-anchor="end" font-weight="normal" font-family="Liberation Sans" stroke="#595959" stroke-width="0.55" textLength="7.4" lengthAdjust="spacingAndGlyphs">50</text>
<text x="302.30" y="289.18" font-size="8.2" fill="#595959" text-anchor="end" font-weight="normal" font-family="Liberation Sans" stroke="#595959" stroke-width="0.55" textLength="7.4" lengthAdjust="spacingAndGlyphs">60</text>
<text x="302.30" y="277.22" font-size="8.2" fill="#595959" text-anchor="end" font-weight="normal" font-family="Liberation Sans" stroke="#595959" stroke-width="0.55" textLength="7.4" lengthAdjust="spacingAndGlyphs">70</text>
<text x="302.30" y="265.26" font-size="8.2" fill="#595959" text-anchor="end" font-weight="normal" font-family="Liberation Sans" stroke="#595959" stroke-width="0.55" textLength="7.4" lengthAdjust="spacingAndGlyphs">80</text>
<text x="302.30" y="253.30" font-size="8.2" fill="#595959" text-anchor="end" font-weight="normal" font-family="Liberation Sans" stroke="#595959" stroke-width="0.55" textLength="7.4" lengthAdjust="spacingAndGlyphs">90</text>
<text x="302.30" y="241.34" font-size="8.2" fill="#595959" text-anchor="end" font-weight="normal" font-family="Liberation Sans" stroke="#595959" stroke-width="0.55" textLength="11.1" lengthAdjust="spacingAndGlyphs">100</text>
<text x="309.50" y="372.34" font-size="8.2" fill="#595959" text-anchor="middle" font-weight="normal" font-family="Liberation Sans" stroke="#595959" stroke-width="0.55" textLength="3.7" lengthAdjust="spacingAndGlyphs">0</text>
<text x="347.30" y="372.34" font-size="8.2" fill="#595959" text-anchor="middle" font-weight="normal" font-family="Liberation Sans" stroke="#595959" stroke-width="0.55" textLength="23.8" lengthAdjust="spacingAndGlyphs">500,000</text>
<text x="385.10" y="372.34" font-size="8.2" fill="#595959" text-anchor="middle" font-weight="normal" font-family="Liberation Sans" stroke="#595959" stroke-width="0.55" textLength="29.1" lengthAdjust="spacingAndGlyphs">1,000,000</text>
<text x="422.90" y="372.34" font-size="8.2" fill="#595959" text-anchor="middle" font-weight="normal" font-family="Liberation Sans" stroke="#595959" stroke-width="0.55" textLength="29.1" lengthAdjust="spacingAndGlyphs">1,500,000</text>
<text x="460.70" y="372.34" font-size="8.2" fill="#595959" text-anchor="middle" font-weight="normal" font-family="Liberation Sans" stroke="#595959" stroke-width="0.55" textLength="29.1" lengthAdjust="spacingAndGlyphs">2,000,000</text>
<text x="328.40" y="387.39" font-size="9.2" fill="#595959" text-anchor="start" font-weight="normal" font-family="Liberation Sans" stroke="#595959" stroke-width="0.55" textLength="113.5" lengthAdjust="spacingAndGlyphs">Ionizing radiations (Bq C-14 eq)</text>
<text x="354.20" y="223.60" font-size="10.8" fill="#595959" font-weight="normal" font-family="Liberation Sans" stroke="#595959" stroke-width="0.55" textLength="6.2" lengthAdjust="spacingAndGlyphs">R</text>
<text x="359.80" y="226.50" font-size="7.0" fill="#595959" font-weight="normal" font-family="Liberation Sans" stroke="#595959" stroke-width="0.55" textLength="5.4" lengthAdjust="spacingAndGlyphs">w</text>
<text x="367.20" y="223.60" font-size="10.8" fill="#595959" text-anchor="start" font-weight="normal" font-family="Liberation Sans" stroke="#595959" stroke-width="0.55" textLength="96.4" lengthAdjust="spacingAndGlyphs">and ionizing radiations</text>
<g transform="translate(286.50,314.00) rotate(-90)"><text x="0" y="0" font-size="8.6" fill="#595959" font-weight="normal" font-family="Liberation Sans" stroke="#595959" stroke-width="0.55" textLength="5.6" lengthAdjust="spacingAndGlyphs">R</text><text x="5.8" y="2.0" font-size="5.0" fill="#595959" font-weight="normal" font-family="Liberation Sans" stroke="#595959" stroke-width="0.35" textLength="4.0" lengthAdjust="spacingAndGlyphs">w</text><text x="13.77" y="0" font-size="8.8" fill="#595959" font-weight="normal" font-family="Liberation Sans" stroke="#595959" stroke-width="0.55" textLength="16.8" lengthAdjust="spacingAndGlyphs">(dB)</text></g>
<line x1="309.50" y1="290.50" x2="439.50" y2="270.80" stroke="#5296d8" stroke-width="0.85" stroke-dasharray="1 1.3"/>
<line x1="309.50" y1="297.20" x2="382.70" y2="277.30" stroke="#c00000" stroke-width="0.85" stroke-dasharray="1 1.3"/>
<ellipse cx="309.50" cy="278.40" rx="2.0" ry="2.3" fill="#5296d8"/>
<ellipse cx="309.50" cy="280.28" rx="2.0" ry="2.3" fill="#5296d8"/>
<ellipse cx="309.50" cy="282.16" rx="2.0" ry="2.3" fill="#5296d8"/>
<ellipse cx="309.50" cy="284.04" rx="2.0" ry="2.3" fill="#5296d8"/>
<ellipse cx="309.50" cy="285.92" rx="2.0" ry="2.3" fill="#5296d8"/>
<ellipse cx="309.50" cy="287.80" rx="2.0" ry="2.3" fill="#5296d8"/>
<ellipse cx="309.50" cy="303.20" rx="2.0" ry="2.3" fill="#5296d8"/>
<ellipse cx="309.50" cy="306.00" rx="2.0" ry="2.3" fill="#5296d8"/>
<ellipse cx="310.30" cy="261.40" rx="2.0" ry="2.3" fill="#5296d8"/>
<ellipse cx="309.50" cy="267.30" rx="2.0" ry="2.3" fill="#5296d8"/>
<ellipse cx="309.50" cy="271.60" rx="2.0" ry="2.3" fill="#5296d8"/>
<ellipse cx="309.50" cy="295.00" rx="2.0" ry="2.3" fill="#5296d8"/>
<ellipse cx="309.50" cy="312.00" rx="2.0" ry="2.3" fill="#5296d8"/>
<ellipse cx="313.60" cy="314.40" rx="2.0" ry="2.3" fill="#5296d8"/>
<ellipse cx="354.10" cy="263.60" rx="2.0" ry="2.3" fill="#5296d8"/>
<ellipse cx="367.10" cy="261.10" rx="2.0" ry="2.3" fill="#5296d8"/>
<ellipse cx="367.00" cy="267.00" rx="2.0" ry="2.3" fill="#5296d8"/>
<ellipse cx="367.00" cy="269.50" rx="2.0" ry="2.3" fill="#5296d8"/>
<ellipse cx="365.80" cy="272.90" rx="2.0" ry="2.3" fill="#5296d8"/>
<ellipse cx="366.50" cy="278.60" rx="2.0" ry="2.3" fill="#5296d8"/>
<ellipse cx="366.50" cy="282.70" rx="2.0" ry="2.3" fill="#5296d8"/>
<ellipse cx="365.80" cy="289.80" rx="2.0" ry="2.3" fill="#5296d8"/>
<ellipse cx="366.50" cy="299.10" rx="2.0" ry="2.3" fill="#5296d8"/>
<ellipse cx="370.70" cy="303.10" rx="2.0" ry="2.3" fill="#5296d8"/>
<ellipse cx="378.10" cy="269.60" rx="2.0" ry="2.3" fill="#5296d8"/>
<ellipse cx="422.90" cy="283.90" rx="2.0" ry="2.3" fill="#5296d8"/>
<ellipse cx="439.20" cy="288.80" rx="2.0" ry="2.3" fill="#5296d8"/>
<ellipse cx="313.40" cy="274.50" rx="2.0" ry="2.3" fill="#c00000"/>
<ellipse cx="313.40" cy="276.50" rx="2.0" ry="2.3" fill="#c00000"/>
<ellipse cx="309.40" cy="315.00" rx="2.0" ry="2.3" fill="#c00000"/>
<ellipse cx="309.40" cy="317.00" rx="2.0" ry="2.3" fill="#c00000"/>
<ellipse cx="383.80" cy="272.00" rx="2.0" ry="2.3" fill="#c00000"/>
<ellipse cx="383.80" cy="274.30" rx="2.0" ry="2.3" fill="#c00000"/>
<ellipse cx="379.20" cy="296.90" rx="2.0" ry="2.3" fill="#c00000"/>
<text x="428.60" y="332.71" font-size="7" fill="#5296d8" text-anchor="start" font-weight="normal" font-family="Liberation Sans" stroke="#5296d8" stroke-width="0.55" textLength="30.5" lengthAdjust="spacingAndGlyphs">R² = 0.1193</text>
<text x="428.90" y="345.51" font-size="7" fill="#c00000" text-anchor="start" font-weight="normal" font-family="Liberation Sans" stroke="#c00000" stroke-width="0.55" textLength="30.8" lengthAdjust="spacingAndGlyphs">R² = 0.3245</text>
<circle cx="488.60" cy="307.50" r="1.9" fill="#5296d8"/>
<circle cx="488.60" cy="321.70" r="1.9" fill="#c00000"/>
<text x="492.50" y="310.22" font-size="7.6" fill="#595959" text-anchor="start" font-weight="normal" font-family="Liberation Sans" stroke="#595959" stroke-width="0.55" textLength="27.2" lengthAdjust="spacingAndGlyphs">CLT based</text>
<text x="492.50" y="324.42" font-size="7.6" fill="#595959" text-anchor="start" font-weight="normal" font-family="Liberation Sans" stroke="#595959" stroke-width="0.55" textLength="48.5" lengthAdjust="spacingAndGlyphs">Ribbed CLT based</text>
<text x="398.90" y="413.20" font-size="9" fill="#000" font-family="Liberation Serif" textLength="11.8" lengthAdjust="spacingAndGlyphs">(<tspan font-weight="bold" stroke="#000" stroke-width="0.25">d</tspan>)</text>
<line x1="39.00" y1="564.50" x2="191.20" y2="564.50" stroke="#dedede" stroke-width="0.75"/>
<line x1="39.00" y1="552.98" x2="191.20" y2="552.98" stroke="#dedede" stroke-width="0.75"/>
<line x1="39.00" y1="541.46" x2="191.20" y2="541.46" stroke="#dedede" stroke-width="0.75"/>
<line x1="39.00" y1="529.94" x2="191.20" y2="529.94" stroke="#dedede" stroke-width="0.75"/>
<line x1="39.00" y1="518.42" x2="191.20" y2="518.42" stroke="#dedede" stroke-width="0.75"/>
<line x1="39.00" y1="506.90" x2="191.20" y2="506.90" stroke="#dedede" stroke-width="0.75"/>
<line x1="39.00" y1="495.38" x2="191.20" y2="495.38" stroke="#dedede" stroke-width="0.75"/>
<line x1="39.00" y1="483.86" x2="191.20" y2="483.86" stroke="#dedede" stroke-width="0.75"/>
<line x1="39.00" y1="472.34" x2="191.20" y2="472.34" stroke="#dedede" stroke-width="0.75"/>
<line x1="39.00" y1="460.82" x2="191.20" y2="460.82" stroke="#dedede" stroke-width="0.75"/>
<line x1="39.00" y1="449.30" x2="191.20" y2="449.30" stroke="#dedede" stroke-width="0.75"/>
<line x1="39.00" y1="449.30" x2="39.00" y2="564.50" stroke="#dedede" stroke-width="0.75"/>
<line x1="89.73" y1="449.30" x2="89.73" y2="564.50" stroke="#dedede" stroke-width="0.75"/>
<line x1="140.47" y1="449.30" x2="140.47" y2="564.50" stroke="#dedede" stroke-width="0.75"/>
<line x1="191.20" y1="449.30" x2="191.20" y2="564.50" stroke="#dedede" stroke-width="0.75"/>
<text x="31.80" y="567.44" font-size="8.2" fill="#595959" text-anchor="end" font-weight="normal" font-family="Liberation Sans" stroke="#595959" stroke-width="0.55" textLength="3.7" lengthAdjust="spacingAndGlyphs">0</text>
<text x="31.80" y="555.92" font-size="8.2" fill="#595959" text-anchor="end" font-weight="normal" font-family="Liberation Sans" stroke="#595959" stroke-width="0.55" textLength="7.4" lengthAdjust="spacingAndGlyphs">10</text>
<text x="31.80" y="544.40" font-size="8.2" fill="#595959" text-anchor="end" font-weight="normal" font-family="Liberation Sans" stroke="#595959" stroke-width="0.55" textLength="7.4" lengthAdjust="spacingAndGlyphs">20</text>
<text x="31.80" y="532.88" font-size="8.2" fill="#595959" text-anchor="end" font-weight="normal" font-family="Liberation Sans" stroke="#595959" stroke-width="0.55" textLength="7.4" lengthAdjust="spacingAndGlyphs">30</text>
<text x="31.80" y="521.36" font-size="8.2" fill="#595959" text-anchor="end" font-weight="normal" font-family="Liberation Sans" stroke="#595959" stroke-width="0.55" textLength="7.4" lengthAdjust="spacingAndGlyphs">40</text>
<text x="31.80" y="509.84" font-size="8.2" fill="#595959" text-anchor="end" font-weight="normal" font-family="Liberation Sans" stroke="#595959" stroke-width="0.55" textLength="7.4" lengthAdjust="spacingAndGlyphs">50</text>
<text x="31.80" y="498.32" font-size="8.2" fill="#595959" text-anchor="end" font-weight="normal" font-family="Liberation Sans" stroke="#595959" stroke-width="0.55" textLength="7.4" lengthAdjust="spacingAndGlyphs">60</text>
<text x="31.80" y="486.80" font-size="8.2" fill="#595959" text-anchor="end" font-weight="normal" font-family="Liberation Sans" stroke="#595959" stroke-width="0.55" textLength="7.4" lengthAdjust="spacingAndGlyphs">70</text>
<text x="31.80" y="475.28" font-size="8.2" fill="#595959" text-anchor="end" font-weight="normal" font-family="Liberation Sans" stroke="#595959" stroke-width="0.55" textLength="7.4" lengthAdjust="spacingAndGlyphs">80</text>
<text x="31.80" y="463.76" font-size="8.2" fill="#595959" text-anchor="end" font-weight="normal" font-family="Liberation Sans" stroke="#595959" stroke-width="0.55" textLength="7.4" lengthAdjust="spacingAndGlyphs">90</text>
<text x="31.80" y="452.24" font-size="8.2" fill="#595959" text-anchor="end" font-weight="normal" font-family="Liberation Sans" stroke="#595959" stroke-width="0.55" textLength="11.1" lengthAdjust="spacingAndGlyphs">100</text>
<text x="39.00" y="579.24" font-size="8.2" fill="#595959" text-anchor="middle" font-weight="normal" font-family="Liberation Sans" stroke="#595959" stroke-width="0.55" textLength="3.7" lengthAdjust="spacingAndGlyphs">0</text>
<text x="89.73" y="579.24" font-size="8.2" fill="#595959" text-anchor="middle" font-weight="normal" font-family="Liberation Sans" stroke="#595959" stroke-width="0.55" textLength="16.4" lengthAdjust="spacingAndGlyphs">0.005</text>
<text x="140.47" y="579.24" font-size="8.2" fill="#595959" text-anchor="middle" font-weight="normal" font-family="Liberation Sans" stroke="#595959" stroke-width="0.55" textLength="12.7" lengthAdjust="spacingAndGlyphs">0.01</text>
<text x="191.20" y="579.24" font-size="8.2" fill="#595959" text-anchor="middle" font-weight="normal" font-family="Liberation Sans" stroke="#595959" stroke-width="0.55" textLength="16.4" lengthAdjust="spacingAndGlyphs">0.015</text>
<text x="42.40" y="594.39" font-size="9.2" fill="#595959" text-anchor="start" font-weight="normal" font-family="Liberation Sans" stroke="#595959" stroke-width="0.55" textLength="145.8" lengthAdjust="spacingAndGlyphs">Ozone Layer Depletion (kg  CFC-11 eq)</text>
<text x="71.80" y="434.70" font-size="10.8" fill="#595959" font-weight="normal" font-family="Liberation Sans" stroke="#595959" stroke-width="0.55" textLength="6.2" lengthAdjust="spacingAndGlyphs">R</text>
<text x="77.40" y="437.60" font-size="7.0" fill="#595959" font-weight="normal" font-family="Liberation Sans" stroke="#595959" stroke-width="0.55" textLength="5.4" lengthAdjust="spacingAndGlyphs">w</text>
<text x="84.80" y="434.70" font-size="10.8" fill="#595959" text-anchor="start" font-weight="normal" font-family="Liberation Sans" stroke="#595959" stroke-width="0.55" textLength="116.5" lengthAdjust="spacingAndGlyphs">and ozone layer depletion</text>
<g transform="translate(13.90,523.10) rotate(-90)"><text x="0" y="0" font-size="8.6" fill="#595959" font-weight="normal" font-family="Liberation Sans" stroke="#595959" stroke-width="0.55" textLength="5.6" lengthAdjust="spacingAndGlyphs">R</text><text x="5.8" y="2.0" font-size="5.0" fill="#595959" font-weight="normal" font-family="Liberation Sans" stroke="#595959" stroke-width="0.35" textLength="4.0" lengthAdjust="spacingAndGlyphs">w</text><text x="13.99" y="0" font-size="8.8" fill="#595959" font-weight="normal" font-family="Liberation Sans" stroke="#595959" stroke-width="0.55" textLength="17.1" lengthAdjust="spacingAndGlyphs">(dB)</text></g>
<line x1="39.00" y1="499.60" x2="159.90" y2="483.30" stroke="#5296d8" stroke-width="0.85" stroke-dasharray="1 1.3"/>
<line x1="39.00" y1="506.00" x2="107.60" y2="486.70" stroke="#c00000" stroke-width="0.85" stroke-dasharray="1 1.3"/>
<ellipse cx="39.00" cy="487.90" rx="2.0" ry="2.3" fill="#5296d8"/>
<ellipse cx="39.00" cy="490.02" rx="2.0" ry="2.3" fill="#5296d8"/>
<ellipse cx="39.00" cy="492.15" rx="2.0" ry="2.3" fill="#5296d8"/>
<ellipse cx="39.00" cy="494.28" rx="2.0" ry="2.3" fill="#5296d8"/>
<ellipse cx="39.00" cy="496.40" rx="2.0" ry="2.3" fill="#5296d8"/>
<ellipse cx="39.00" cy="512.30" rx="2.0" ry="2.3" fill="#5296d8"/>
<ellipse cx="39.00" cy="514.15" rx="2.0" ry="2.3" fill="#5296d8"/>
<ellipse cx="39.00" cy="516.00" rx="2.0" ry="2.3" fill="#5296d8"/>
<ellipse cx="39.80" cy="470.90" rx="2.0" ry="2.3" fill="#5296d8"/>
<ellipse cx="39.00" cy="476.80" rx="2.0" ry="2.3" fill="#5296d8"/>
<ellipse cx="39.00" cy="481.40" rx="2.0" ry="2.3" fill="#5296d8"/>
<ellipse cx="39.00" cy="503.90" rx="2.0" ry="2.3" fill="#5296d8"/>
<ellipse cx="39.00" cy="520.00" rx="2.0" ry="2.3" fill="#5296d8"/>
<ellipse cx="43.00" cy="522.80" rx="2.0" ry="2.3" fill="#5296d8"/>
<ellipse cx="80.60" cy="473.60" rx="2.0" ry="2.3" fill="#5296d8"/>
<ellipse cx="92.70" cy="470.70" rx="2.0" ry="2.3" fill="#5296d8"/>
<ellipse cx="92.50" cy="477.00" rx="2.0" ry="2.3" fill="#5296d8"/>
<ellipse cx="92.50" cy="479.50" rx="2.0" ry="2.3" fill="#5296d8"/>
<ellipse cx="91.30" cy="482.40" rx="2.0" ry="2.3" fill="#5296d8"/>
<ellipse cx="92.20" cy="488.60" rx="2.0" ry="2.3" fill="#5296d8"/>
<ellipse cx="92.20" cy="492.20" rx="2.0" ry="2.3" fill="#5296d8"/>
<ellipse cx="91.30" cy="498.40" rx="2.0" ry="2.3" fill="#5296d8"/>
<ellipse cx="92.20" cy="507.80" rx="2.0" ry="2.3" fill="#5296d8"/>
<ellipse cx="95.60" cy="511.30" rx="2.0" ry="2.3" fill="#5296d8"/>
<ellipse cx="91.30" cy="516.20" rx="2.0" ry="2.3" fill="#5296d8"/>
<ellipse cx="102.90" cy="479.10" rx="2.0" ry="2.3" fill="#5296d8"/>
<ellipse cx="144.90" cy="493.10" rx="2.0" ry="2.3" fill="#5296d8"/>
<ellipse cx="160.30" cy="497.30" rx="2.0" ry="2.3" fill="#5296d8"/>
<ellipse cx="42.70" cy="483.50" rx="2.0" ry="2.3" fill="#c00000"/>
<ellipse cx="42.70" cy="485.50" rx="2.0" ry="2.3" fill="#c00000"/>
<ellipse cx="38.80" cy="523.00" rx="2.0" ry="2.3" fill="#c00000"/>
<ellipse cx="38.80" cy="525.00" rx="2.0" ry="2.3" fill="#c00000"/>
<ellipse cx="107.60" cy="481.50" rx="2.0" ry="2.3" fill="#c00000"/>
<ellipse cx="107.60" cy="483.80" rx="2.0" ry="2.3" fill="#c00000"/>
<ellipse cx="104.40" cy="505.80" rx="2.0" ry="2.3" fill="#c00000"/>
<text x="155.90" y="539.31" font-size="7" fill="#5296d8" text-anchor="start" font-weight="normal" font-family="Liberation Sans" stroke="#5296d8" stroke-width="0.55" textLength="32.3" lengthAdjust="spacingAndGlyphs">R² = 0.0854</text>
<text x="155.00" y="553.21" font-size="7" fill="#c00000" text-anchor="start" font-weight="normal" font-family="Liberation Sans" stroke="#c00000" stroke-width="0.55" textLength="32.3" lengthAdjust="spacingAndGlyphs">R² = 0.3252</text>
<circle cx="213.20" cy="515.30" r="1.9" fill="#5296d8"/>
<circle cx="213.20" cy="530.80" r="1.9" fill="#c00000"/>
<text x="218.00" y="518.02" font-size="7.6" fill="#595959" text-anchor="start" font-weight="normal" font-family="Liberation Sans" stroke="#595959" stroke-width="0.55" textLength="28.6" lengthAdjust="spacingAndGlyphs">CLT based</text>
<text x="218.00" y="533.52" font-size="7.6" fill="#595959" text-anchor="start" font-weight="normal" font-family="Liberation Sans" stroke="#595959" stroke-width="0.55" textLength="49.7" lengthAdjust="spacingAndGlyphs">Ribbed CLT based</text>
<text x="126.80" y="623.20" font-size="9" fill="#000" font-family="Liberation Serif" textLength="10.5" lengthAdjust="spacingAndGlyphs">(<tspan font-weight="bold" stroke="#000" stroke-width="0.25">e</tspan>)</text>
<line x1="310.70" y1="565.60" x2="468.40" y2="565.60" stroke="#dedede" stroke-width="0.75"/>
<line x1="310.70" y1="553.90" x2="468.40" y2="553.90" stroke="#dedede" stroke-width="0.75"/>
<line x1="310.70" y1="542.20" x2="468.40" y2="542.20" stroke="#dedede" stroke-width="0.75"/>
<line x1="310.70" y1="530.50" x2="468.40" y2="530.50" stroke="#dedede" stroke-width="0.75"/>
<line x1="310.70" y1="518.80" x2="468.40" y2="518.80" stroke="#dedede" stroke-width="0.75"/>
<line x1="310.70" y1="507.10" x2="468.40" y2="507.10" stroke="#dedede" stroke-width="0.75"/>
<line x1="310.70" y1="495.40" x2="468.40" y2="495.40" stroke="#dedede" stroke-width="0.75"/>
<line x1="310.70" y1="483.70" x2="468.40" y2="483.70" stroke="#dedede" stroke-width="0.75"/>
<line x1="310.70" y1="472.00" x2="468.40" y2="472.00" stroke="#dedede" stroke-width="0.75"/>
<line x1="310.70" y1="460.30" x2="468.40" y2="460.30" stroke="#dedede" stroke-width="0.75"/>
<line x1="310.70" y1="448.60" x2="468.40" y2="448.60" stroke="#dedede" stroke-width="0.75"/>
<line x1="310.70" y1="448.60" x2="310.70" y2="565.60" stroke="#dedede" stroke-width="0.75"/>
<line x1="336.98" y1="448.60" x2="336.98" y2="565.60" stroke="#dedede" stroke-width="0.75"/>
<line x1="363.27" y1="448.60" x2="363.27" y2="565.60" stroke="#dedede" stroke-width="0.75"/>
<line x1="389.55" y1="448.60" x2="389.55" y2="565.60" stroke="#dedede" stroke-width="0.75"/>
<line x1="415.83" y1="448.60" x2="415.83" y2="565.60" stroke="#dedede" stroke-width="0.75"/>
<line x1="442.12" y1="448.60" x2="442.12" y2="565.60" stroke="#dedede" stroke-width="0.75"/>
<line x1="468.40" y1="448.60" x2="468.40" y2="565.60" stroke="#dedede" stroke-width="0.75"/>
<text x="303.20" y="568.54" font-size="8.2" fill="#595959" text-anchor="end" font-weight="normal" font-family="Liberation Sans" stroke="#595959" stroke-width="0.55" textLength="3.7" lengthAdjust="spacingAndGlyphs">0</text>
<text x="303.20" y="556.84" font-size="8.2" fill="#595959" text-anchor="end" font-weight="normal" font-family="Liberation Sans" stroke="#595959" stroke-width="0.55" textLength="7.4" lengthAdjust="spacingAndGlyphs">10</text>
<text x="303.20" y="545.14" font-size="8.2" fill="#595959" text-anchor="end" font-weight="normal" font-family="Liberation Sans" stroke="#595959" stroke-width="0.55" textLength="7.4" lengthAdjust="spacingAndGlyphs">20</text>
<text x="303.20" y="533.44" font-size="8.2" fill="#595959" text-anchor="end" font-weight="normal" font-family="Liberation Sans" stroke="#595959" stroke-width="0.55" textLength="7.4" lengthAdjust="spacingAndGlyphs">30</text>
<text x="303.20" y="521.74" font-size="8.2" fill="#595959" text-anchor="end" font-weight="normal" font-family="Liberation Sans" stroke="#595959" stroke-width="0.55" textLength="7.4" lengthAdjust="spacingAndGlyphs">40</text>
<text x="303.20" y="510.04" font-size="8.2" fill="#595959" text-anchor="end" font-weight="normal" font-family="Liberation Sans" stroke="#595959" stroke-width="0.55" textLength="7.4" lengthAdjust="spacingAndGlyphs">50</text>
<text x="303.20" y="498.34" font-size="8.2" fill="#595959" text-anchor="end" font-weight="normal" font-family="Liberation Sans" stroke="#595959" stroke-width="0.55" textLength="7.4" lengthAdjust="spacingAndGlyphs">60</text>
<text x="303.20" y="486.64" font-size="8.2" fill="#595959" text-anchor="end" font-weight="normal" font-family="Liberation Sans" stroke="#595959" stroke-width="0.55" textLength="7.4" lengthAdjust="spacingAndGlyphs">70</text>
<text x="303.20" y="474.94" font-size="8.2" fill="#595959" text-anchor="end" font-weight="normal" font-family="Liberation Sans" stroke="#595959" stroke-width="0.55" textLength="7.4" lengthAdjust="spacingAndGlyphs">80</text>
<text x="303.20" y="463.24" font-size="8.2" fill="#595959" text-anchor="end" font-weight="normal" font-family="Liberation Sans" stroke="#595959" stroke-width="0.55" textLength="7.4" lengthAdjust="spacingAndGlyphs">90</text>
<text x="303.20" y="451.54" font-size="8.2" fill="#595959" text-anchor="end" font-weight="normal" font-family="Liberation Sans" stroke="#595959" stroke-width="0.55" textLength="11.1" lengthAdjust="spacingAndGlyphs">100</text>
<text x="310.70" y="580.44" font-size="8.2" fill="#595959" text-anchor="middle" font-weight="normal" font-family="Liberation Sans" stroke="#595959" stroke-width="0.55" textLength="3.7" lengthAdjust="spacingAndGlyphs">0</text>
<text x="336.98" y="580.44" font-size="8.2" fill="#595959" text-anchor="middle" font-weight="normal" font-family="Liberation Sans" stroke="#595959" stroke-width="0.55" textLength="7.4" lengthAdjust="spacingAndGlyphs">10</text>
<text x="363.27" y="580.44" font-size="8.2" fill="#595959" text-anchor="middle" font-weight="normal" font-family="Liberation Sans" stroke="#595959" stroke-width="0.55" textLength="7.4" lengthAdjust="spacingAndGlyphs">20</text>
<text x="389.55" y="580.44" font-size="8.2" fill="#595959" text-anchor="middle" font-weight="normal" font-family="Liberation Sans" stroke="#595959" stroke-width="0.55" textLength="7.4" lengthAdjust="spacingAndGlyphs">30</text>
<text x="415.83" y="580.44" font-size="8.2" fill="#595959" text-anchor="middle" font-weight="normal" font-family="Liberation Sans" stroke="#595959" stroke-width="0.55" textLength="7.4" lengthAdjust="spacingAndGlyphs">40</text>
<text x="442.12" y="580.44" font-size="8.2" fill="#595959" text-anchor="middle" font-weight="normal" font-family="Liberation Sans" stroke="#595959" stroke-width="0.55" textLength="7.4" lengthAdjust="spacingAndGlyphs">50</text>
<text x="468.40" y="580.44" font-size="8.2" fill="#595959" text-anchor="middle" font-weight="normal" font-family="Liberation Sans" stroke="#595959" stroke-width="0.55" textLength="7.4" lengthAdjust="spacingAndGlyphs">60</text>
<text x="313.80" y="595.29" font-size="9.2" fill="#595959" text-anchor="start" font-weight="normal" font-family="Liberation Sans" stroke="#595959" stroke-width="0.55" textLength="165.9" lengthAdjust="spacingAndGlyphs">Particulate matter formation (kg PM2.5 eq)</text>
<text x="327.40" y="433.60" font-size="10.8" fill="#595959" font-weight="normal" font-family="Liberation Sans" stroke="#595959" stroke-width="0.55" textLength="6.2" lengthAdjust="spacingAndGlyphs">R</text>
<text x="333.00" y="436.50" font-size="7.0" fill="#595959" font-weight="normal" font-family="Liberation Sans" stroke="#595959" stroke-width="0.55" textLength="5.4" lengthAdjust="spacingAndGlyphs">w</text>
<text x="340.40" y="433.60" font-size="10.8" fill="#595959" text-anchor="start" font-weight="normal" font-family="Liberation Sans" stroke="#595959" stroke-width="0.55" textLength="149.4" lengthAdjust="spacingAndGlyphs">and particulate matter formation</text>
<g transform="translate(286.00,523.50) rotate(-90)"><text x="0" y="0" font-size="8.6" fill="#595959" font-weight="normal" font-family="Liberation Sans" stroke="#595959" stroke-width="0.55" textLength="5.6" lengthAdjust="spacingAndGlyphs">R</text><text x="5.8" y="2.0" font-size="5.0" fill="#595959" font-weight="normal" font-family="Liberation Sans" stroke="#595959" stroke-width="0.35" textLength="4.0" lengthAdjust="spacingAndGlyphs">w</text><text x="14.18" y="0" font-size="8.8" fill="#595959" font-weight="normal" font-family="Liberation Sans" stroke="#595959" stroke-width="0.55" textLength="17.3" lengthAdjust="spacingAndGlyphs">(dB)</text></g>
<line x1="310.70" y1="500.00" x2="457.70" y2="482.90" stroke="#5296d8" stroke-width="0.85" stroke-dasharray="1 1.3"/>
<line x1="310.70" y1="505.80" x2="393.10" y2="487.00" stroke="#c00000" stroke-width="0.85" stroke-dasharray="1 1.3"/>
<ellipse cx="310.70" cy="487.90" rx="2.0" ry="2.3" fill="#5296d8"/>
<ellipse cx="310.70" cy="490.02" rx="2.0" ry="2.3" fill="#5296d8"/>
<ellipse cx="310.70" cy="492.15" rx="2.0" ry="2.3" fill="#5296d8"/>
<ellipse cx="310.70" cy="494.28" rx="2.0" ry="2.3" fill="#5296d8"/>
<ellipse cx="310.70" cy="496.40" rx="2.0" ry="2.3" fill="#5296d8"/>
<ellipse cx="310.70" cy="512.80" rx="2.0" ry="2.3" fill="#5296d8"/>
<ellipse cx="310.70" cy="515.50" rx="2.0" ry="2.3" fill="#5296d8"/>
<ellipse cx="311.40" cy="471.10" rx="2.0" ry="2.3" fill="#5296d8"/>
<ellipse cx="310.70" cy="476.60" rx="2.0" ry="2.3" fill="#5296d8"/>
<ellipse cx="310.70" cy="481.10" rx="2.0" ry="2.3" fill="#5296d8"/>
<ellipse cx="310.70" cy="504.40" rx="2.0" ry="2.3" fill="#5296d8"/>
<ellipse cx="310.70" cy="520.50" rx="2.0" ry="2.3" fill="#5296d8"/>
<ellipse cx="314.10" cy="523.50" rx="2.0" ry="2.3" fill="#5296d8"/>
<ellipse cx="361.10" cy="473.30" rx="2.0" ry="2.3" fill="#5296d8"/>
<ellipse cx="376.20" cy="470.90" rx="2.0" ry="2.3" fill="#5296d8"/>
<ellipse cx="376.00" cy="476.80" rx="2.0" ry="2.3" fill="#5296d8"/>
<ellipse cx="376.00" cy="479.50" rx="2.0" ry="2.3" fill="#5296d8"/>
<ellipse cx="374.90" cy="482.40" rx="2.0" ry="2.3" fill="#5296d8"/>
<ellipse cx="375.70" cy="488.60" rx="2.0" ry="2.3" fill="#5296d8"/>
<ellipse cx="375.70" cy="492.20" rx="2.0" ry="2.3" fill="#5296d8"/>
<ellipse cx="374.90" cy="499.10" rx="2.0" ry="2.3" fill="#5296d8"/>
<ellipse cx="375.70" cy="508.20" rx="2.0" ry="2.3" fill="#5296d8"/>
<ellipse cx="380.00" cy="512.10" rx="2.0" ry="2.3" fill="#5296d8"/>
<ellipse cx="374.90" cy="516.70" rx="2.0" ry="2.3" fill="#5296d8"/>
<ellipse cx="388.70" cy="478.80" rx="2.0" ry="2.3" fill="#5296d8"/>
<ellipse cx="439.30" cy="493.10" rx="2.0" ry="2.3" fill="#5296d8"/>
<ellipse cx="458.70" cy="497.90" rx="2.0" ry="2.3" fill="#5296d8"/>
<ellipse cx="314.10" cy="484.00" rx="2.0" ry="2.3" fill="#c00000"/>
<ellipse cx="314.10" cy="486.30" rx="2.0" ry="2.3" fill="#c00000"/>
<ellipse cx="310.30" cy="524.00" rx="2.0" ry="2.3" fill="#c00000"/>
<ellipse cx="310.30" cy="526.00" rx="2.0" ry="2.3" fill="#c00000"/>
<ellipse cx="393.60" cy="481.50" rx="2.0" ry="2.3" fill="#c00000"/>
<ellipse cx="393.60" cy="483.80" rx="2.0" ry="2.3" fill="#c00000"/>
<ellipse cx="390.60" cy="506.00" rx="2.0" ry="2.3" fill="#c00000"/>
<text x="433.60" y="539.91" font-size="7" fill="#5296d8" text-anchor="start" font-weight="normal" font-family="Liberation Sans" stroke="#5296d8" stroke-width="0.55" textLength="31.9" lengthAdjust="spacingAndGlyphs">R² = 0.0854</text>
<text x="432.70" y="551.61" font-size="7" fill="#c00000" text-anchor="start" font-weight="normal" font-family="Liberation Sans" stroke="#c00000" stroke-width="0.55" textLength="32.3" lengthAdjust="spacingAndGlyphs">R² = 0.3145</text>
<circle cx="486.00" cy="516.70" r="1.9" fill="#5296d8"/>
<circle cx="486.00" cy="531.30" r="1.9" fill="#c00000"/>
<text x="489.60" y="519.42" font-size="7.6" fill="#595959" text-anchor="start" font-weight="normal" font-family="Liberation Sans" stroke="#595959" stroke-width="0.55" textLength="28.7" lengthAdjust="spacingAndGlyphs">CLT based</text>
<text x="489.60" y="534.02" font-size="7.6" fill="#595959" text-anchor="start" font-weight="normal" font-family="Liberation Sans" stroke="#595959" stroke-width="0.55" textLength="50.9" lengthAdjust="spacingAndGlyphs">Ribbed CLT based</text>
<text x="399.80" y="623.20" font-size="9" fill="#000" font-family="Liberation Serif" textLength="9.7" lengthAdjust="spacingAndGlyphs">(<tspan font-weight="bold" stroke="#000" stroke-width="0.25">f</tspan>)</text>
</svg>
</body></html>
